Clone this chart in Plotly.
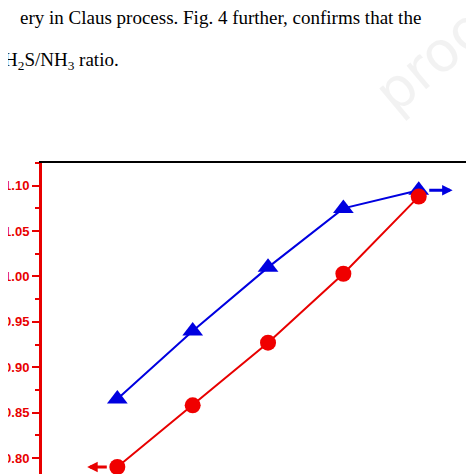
import plotly.graph_objects as go

x = [1, 2, 3, 4, 5]
blue_vals = [0.865, 0.940, 1.010, 1.075, 1.095]
red_vals = [0.790, 0.858, 0.927, 1.003, 1.088]
ytick_vals = [0.80, 0.85, 0.90, 0.95, 1.00, 1.05, 1.10]
ytick_text = ["0.80", "0.85", "0.90", "0.95", "1.00", "1.05", "1.10"]

fig = go.Figure()
fig.add_trace(go.Scatter(x=x, y=blue_vals, mode="lines+markers",
                         line=dict(color="#0000e0", width=2),
                         marker=dict(symbol="triangle-up", size=18, color="#0000e0")))
fig.add_trace(go.Scatter(x=x, y=red_vals, mode="lines+markers",
                         line=dict(color="#e80000", width=2),
                         marker=dict(symbol="circle", size=16, color="#f00000")))

fig.add_annotation(x=0.6, y=red_vals[0], ax=x[0] - 0.12, ay=red_vals[0],
                   xref="x", yref="y", axref="x", ayref="y", text="",
                   showarrow=True, arrowhead=2, arrowsize=0.7, arrowwidth=3, arrowcolor="#e80000")
fig.add_annotation(x=5.45, y=blue_vals[-1], ax=x[-1] + 0.12, ay=blue_vals[-1],
                   xref="x", yref="y", axref="x", ayref="y", text="",
                   showarrow=True, arrowhead=2, arrowsize=0.7, arrowwidth=3, arrowcolor="#0000e0")

serif = "Liberation Serif, Times New Roman, serif"
fig.add_annotation(xref="paper", yref="paper", x=-0.055, y=1, xanchor="left", yanchor="middle",
                   yshift=146, showarrow=False,
                   text="ery in Claus process. Fig. 4 further, confirms that the",
                   font=dict(family=serif, size=19, color="black"))
fig.add_annotation(xref="paper", yref="paper", x=-0.09, y=1, xanchor="left", yanchor="middle",
                   yshift=102, showarrow=False,
                   text="H<sub>2</sub>S/NH<sub>3</sub> ratio.",
                   font=dict(family=serif, size=19, color="black"))
fig.add_annotation(xref="paper", yref="paper", x=0.9, y=1, xanchor="center", yanchor="middle",
                   yshift=110, showarrow=False, textangle=-40, text="proof",
                   font=dict(family="DejaVu Sans", size=56, color="rgba(0,0,0,0.05)"))

fig.update_layout(
    width=474, height=474, showlegend=False,
    margin=dict(l=34, r=0, t=155, b=0, autoexpand=False),
    paper_bgcolor="white", plot_bgcolor="white",
    xaxis=dict(range=[0.0, 5.84], showticklabels=False, showgrid=False, zeroline=False,
               showline=True, mirror=True, linecolor="black", linewidth=2, ticks="",
               automargin=False),
    yaxis=dict(range=[0.7735, 1.125], tickvals=ytick_vals, ticktext=ytick_text,
               showgrid=False, zeroline=False, showline=True, linecolor="#e80000", linewidth=3,
               ticks="outside", ticklen=7, tickwidth=2, tickcolor="#e80000", automargin=False,
               minor=dict(dtick=0.025, ticks="outside", ticklen=4, tickcolor="#e80000", tickwidth=2),
               tickfont=dict(family="Arial, Liberation Sans", size=13, color="#e80000", weight="bold")),
)
fig.write_html("out.html")
